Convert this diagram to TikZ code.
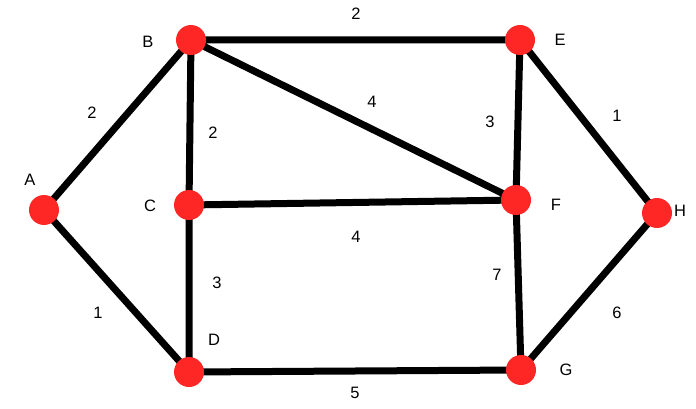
\documentclass[tikz,border=0pt]{standalone}
\usepackage{fontspec}
\setmainfont{Liberation Sans}
\begin{document}
\begin{tikzpicture}[x=1pt,y=-1pt,
  edge/.style={line width=7pt},
  lbl/.style={scale=1.65,inner sep=0pt}]
\useasboundingbox (0,0) rectangle (696,409);
\coordinate (A) at (44,210);
\coordinate (B) at (191,40);
\coordinate (C) at (189,205);
\coordinate (D) at (189,372);
\coordinate (E) at (520,40);
\coordinate (F) at (516,200);
\coordinate (G) at (521,370);
\coordinate (H) at (657,213);
\draw[edge] (A)--(B) (A)--(D) (B)--(E) (B)--(C) (C)--(D) (B)--(F)
  (C)--(F) (E)--(F) (F)--(G) (D)--(G) (E)--(H) (H)--(G);
\foreach \n in {A,B,C,D,E,F,G,H}{\fill[red!85!white] (\n) circle (15);}
\node[lbl] (lA) at (30,180) {A};
\node[lbl] (lB) at (148,42) {B};
\node[lbl] (lC) at (150,206) {C};
\node[lbl] (lD) at (214,340) {D};
\node[lbl] (lE) at (560,40) {E};
\node[lbl] (lF) at (556,205) {F};
\node[lbl] (lG) at (566,370) {G};
\node[lbl] (lH) at (680,211) {H};
\node[lbl] (w1) at (356,14) {2};
\node[lbl] (w2) at (92,113) {2};
\node[lbl] (w3) at (98,313) {1};
\node[lbl] (w4) at (213,133) {2};
\node[lbl] (w5) at (217,283) {3};
\node[lbl] (w6) at (372,102) {4};
\node[lbl] (w7) at (490,122) {3};
\node[lbl] (w8) at (356,237) {4};
\node[lbl] (w9) at (497,275) {7};
\node[lbl] (w10) at (355,393) {5};
\node[lbl] (w11) at (617,116) {1};
\node[lbl] (w12) at (617,313) {6};
\end{tikzpicture}
\end{document}
